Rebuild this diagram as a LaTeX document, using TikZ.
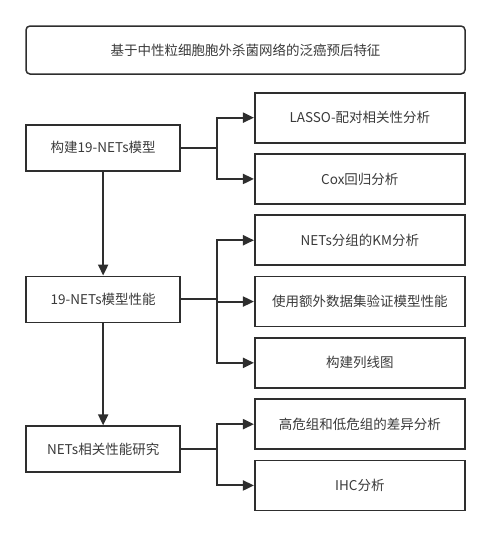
\documentclass[tikz,border=0pt]{standalone}
\usepackage{fontspec}
\setmainfont{Noto Sans CJK SC}
\usetikzlibrary{positioning,arrows.meta}

\definecolor{linegray}{HTML}{2E2E2E}
\definecolor{textgray}{HTML}{3A3A3A}

\tikzset{
	box/.style={draw=linegray, line width=1.8pt, inner sep=0pt, text=textgray,
		font=\fontsize{13.5}{16}\selectfont},
	titlebox/.style={box, rounded corners=4pt, line width=1.5pt, minimum width=439pt, minimum height=48pt},
	stepbox/.style={box, minimum width=154pt, minimum height=46pt},
	taskbox/.style={box, minimum width=210pt, minimum height=50pt},
	conn/.style={draw=linegray, line width=2pt},
	arr/.style={conn, -{Triangle[length=11pt,width=10pt]}},
}

\begin{document}
\begin{tikzpicture}
	\useasboundingbox (0pt,0pt) rectangle (491pt,-539pt);

	%% TITLE
	\node[titlebox](title) at (245.5pt,-50pt){基于中性粒细胞胞外杀菌网络的泛癌预后特征};

	%% MAIN STEPS
	\node[stepbox, below=49pt of title.south west, anchor=north west](build){构建19-NETs模型};
	\node[stepbox, below=104pt of build](perf){19-NETs模型性能};
	\node[stepbox, below=102pt of perf](study){NETs相关性能研究};

	\draw[arr] (build) -- (perf);
	\draw[arr] (perf) -- (study);

	%% TASKS
	\node[taskbox, below=17pt of title.south east, anchor=north east](lasso){LASSO-配对相关性分析};
	\node[taskbox, below=9.5pt of lasso](cox){Cox回归分析};
	\node[taskbox, below=9.5pt of cox](km){NETs分组的KM分析};
	\node[taskbox, below=9.5pt of km](valid){使用额外数据集验证模型性能};
	\node[taskbox, below=9.5pt of valid](nomo){构建列线图};
	\node[taskbox, below=9.5pt of nomo](diff){高危组和低危组的差异分析};
	\node[taskbox, below=9.5pt of diff](ihc){IHC分析};

	% branch points
	\path (build.east) ++(36pt,0) coordinate (split_build);
	\path (perf.east) ++(36pt,0) coordinate (split_perf);
	\path (study.east) ++(36pt,0) coordinate (split_study);

	\draw[conn] (build.east) -- (split_build);
	\draw[arr] (split_build) |- (lasso);
	\draw[arr] (split_build) |- (cox);

	\draw[conn] (perf.east) -- (split_perf);
	\draw[arr] (split_perf) |- (km);
	\draw[arr] (split_perf) |- (valid);
	\draw[arr] (split_perf) |- (nomo);

	\draw[conn] (study.east) -- (split_study);
	\draw[arr] (split_study) |- (diff);
	\draw[arr] (split_study) |- (ihc);
\end{tikzpicture}
\end{document}
